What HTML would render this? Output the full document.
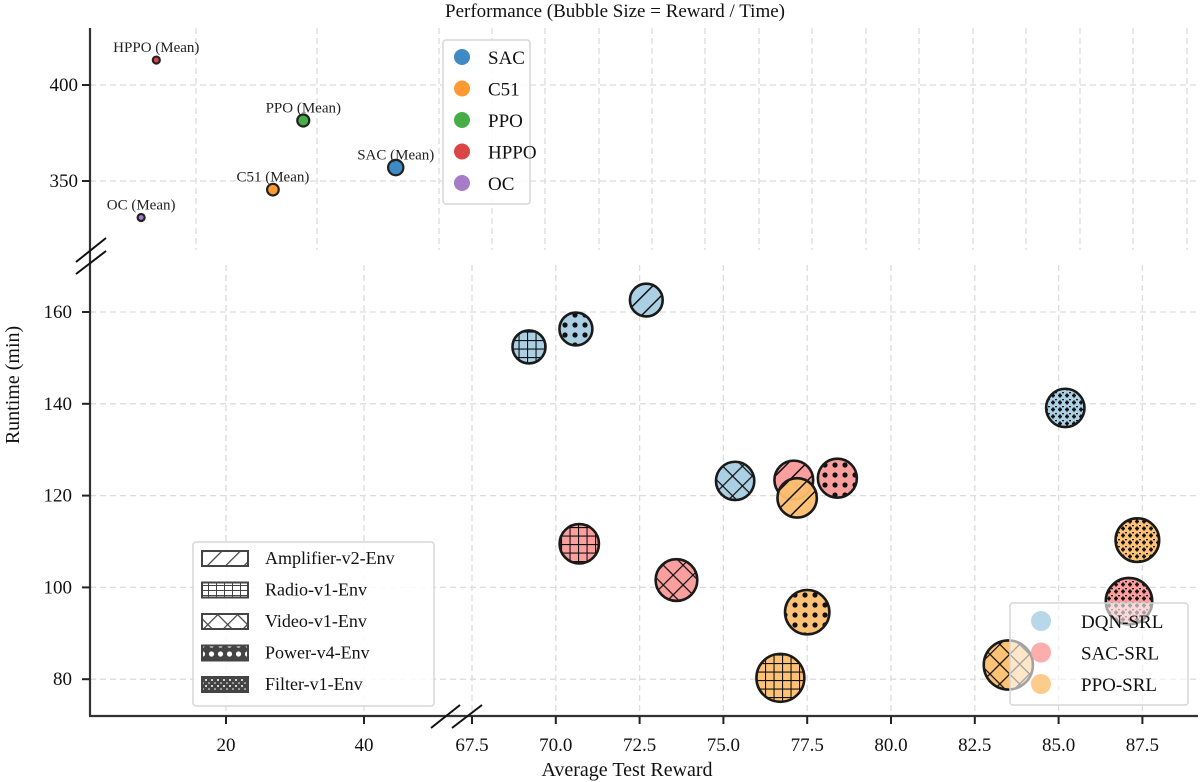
<!DOCTYPE html>
<html><head><meta charset="utf-8">
<style>
body{margin:0;background:#fff;}
svg{display:block;font-family:"Liberation Serif","DejaVu Serif",serif;}
</style></head>
<body>
<svg id="chart" width="1200" height="782" viewBox="0 0 1200 782">
<defs>
  <pattern id="h-amp" patternUnits="userSpaceOnUse" width="13" height="13" patternTransform="rotate(45)">
    <line x1="0" y1="0" x2="0" y2="13" stroke="#111" stroke-width="3"/>
  </pattern>
  <pattern id="h-radio" patternUnits="userSpaceOnUse" width="8.5" height="8.5">
    <path d="M0 0H8.5M0 0V8.5" stroke="#111" stroke-width="2.2" fill="none"/>
  </pattern>
  <pattern id="h-video" patternUnits="userSpaceOnUse" width="14" height="14" patternTransform="rotate(45)">
    <path d="M0 0H14M0 0V14" stroke="#111" stroke-width="2.5" fill="none"/>
  </pattern>
  <pattern id="h-power" patternUnits="userSpaceOnUse" width="10" height="10">
    <circle cx="5" cy="5" r="2.6" fill="#111"/>
  </pattern>
  <pattern id="h-filter" patternUnits="userSpaceOnUse" width="7" height="7">
    <path d="M1 3.5H5M3 1.5V5.5" stroke="#111" stroke-width="1.8"/>
    <circle cx="6" cy="0.5" r="1" fill="#111"/>
  </pattern>
  <pattern id="l-amp" patternUnits="userSpaceOnUse" width="13" height="13" patternTransform="rotate(45)">
    <line x1="0" y1="0" x2="0" y2="13" stroke="#444" stroke-width="2.5"/>
  </pattern>
  <pattern id="l-radio" patternUnits="userSpaceOnUse" width="8" height="5">
    <path d="M0 0H8M0 0V5" stroke="#444" stroke-width="2" fill="none"/>
  </pattern>
  <pattern id="l-video" patternUnits="userSpaceOnUse" width="14" height="14" patternTransform="rotate(45)">
    <path d="M0 0H14M0 0V14" stroke="#444" stroke-width="2.5" fill="none"/>
  </pattern>
  <pattern id="l-power" patternUnits="userSpaceOnUse" width="9" height="9">
    <rect width="9" height="9" fill="#444"/><circle cx="4.5" cy="6" r="2.6" fill="#fff"/>
  </pattern>
  <pattern id="l-filter" patternUnits="userSpaceOnUse" width="6" height="6">
    <rect width="6" height="6" fill="#444"/><circle cx="2" cy="2" r="1" fill="#fff"/><circle cx="5" cy="5" r="0.8" fill="#fff"/>
  </pattern>
</defs>
<g id="grid"></g>
<g id="marks"></g>
<g id="axes"></g>
<g id="legends"></g>
</svg>
<script>
// ---- data ----
const meanAlgos = ["SAC","C51","PPO","HPPO","OC"];
const meanColors = ["#3d8ac4","#ff9a33","#47ad47","#dc4545","#a47cc8"];
const meanReward = [44.6, 26.8, 31.2, 9.9, 7.7];
const meanTime = [357, 345.5, 381.5, 413, 331];

const envs = ["Amplifier-v2-Env","Radio-v1-Env","Video-v1-Env","Power-v4-Env","Filter-v1-Env"];
const srlAlgos = ["DQN-SRL","SAC-SRL","PPO-SRL"];
const srlColors = ["#a6cee3","#fb9a99","#fdbf6f"];
const dqnReward = [72.7, 69.2, 75.35, 70.6, 85.2];
const dqnTime = [162.6, 152.4, 123.2, 156.3, 139.1];
const sacReward = [77.1, 70.7, 73.6, 78.4, 87.1];
const sacTime = [123.4, 109.5, 101.6, 123.8, 97.0];
const ppoReward = [77.2, 76.7, 83.5, 77.5, 87.35];
const ppoTime = [119.5, 80.3, 83.1, 94.6, 110.3];

const topYTicks = [350, 400];
const botYTicks = [80, 100, 120, 140, 160];
const leftXTicks = [20, 40];
const rightXTicks = [67.5, 70.0, 72.5, 75.0, 77.5, 80.0, 82.5, 85.0, 87.5];

// ---- scales ----
const xL = v => 226 + (v - 20) * 6.9;
const xR = v => 472 + (v - 67.5) * 33.52;
const yTop = v => 85 + (400 - v) * 1.92;
const yBot = v => 312 + (160 - v) * 4.59;
const rad = (r, t) => 24.5 * Math.sqrt(r / t);

const NS = "http://www.w3.org/2000/svg";
function mk(tag, attrs, parent, text){
  const e = document.createElementNS(NS, tag);
  for (const k in attrs) e.setAttribute(k, attrs[k]);
  if (text !== undefined) e.textContent = text;
  parent.appendChild(e); return e;
}
const grid = document.getElementById('grid');
const marks = document.getElementById('marks');
const axes = document.getElementById('axes');
const legends = document.getElementById('legends');
const gstyle = {stroke:"#dcdcdc","stroke-width":1.3,"stroke-dasharray":"6,4"};

[196,317,439,492,545,599,652,705,759,812,866,919,973,1026,1080,1133,1187].forEach(x=>{
  const l = mk('line', Object.assign({x1:x,x2:x,y1:28,y2:250}, gstyle), grid);
  
  
});
topYTicks.forEach(v=>{
  const l = mk('line', Object.assign({x1:90,x2:1198,y1:yTop(v),y2:yTop(v)}, gstyle), grid);
  
  
});
leftXTicks.forEach(v=>{
  const l = mk('line', Object.assign({x1:xL(v),x2:xL(v),y1:265,y2:716}, gstyle), grid);
  
  
});
rightXTicks.forEach(v=>{
  const l = mk('line', Object.assign({x1:xR(v),x2:xR(v),y1:265,y2:716}, gstyle), grid);
  
  
});
botYTicks.forEach(v=>{
  const l = mk('line', Object.assign({x1:90,x2:1198,y1:yBot(v),y2:yBot(v)}, gstyle), grid);
  
  
});

meanAlgos.forEach((a,i)=>{
  const cx = xL(meanReward[i]), cy = yTop(meanTime[i]);
  const c = mk('circle',{cx:cx,cy:cy,r:Math.max(3.5,rad(meanReward[i],meanTime[i])-1),fill:meanColors[i],stroke:"#222","stroke-width":2.2},marks);
  
  
  const t = mk('text',{x:cx,y:cy-8,"text-anchor":"middle","font-size":15,fill:"#222"},marks,a+" (Mean)");
  
  
});

const hatchIds = ["h-amp","h-radio","h-video","h-power","h-filter"];
const allR = [dqnReward, sacReward, ppoReward];
const allT = [dqnTime, sacTime, ppoTime];
srlAlgos.forEach((a,ai)=>{
  envs.forEach((e,ei)=>{
    const rv = allR[ai][ei], tv = allT[ai][ei];
    const cx = xR(rv), cy = yBot(tv), r = rad(rv,tv);
    const g = mk('g',{},marks);
    
    
    mk('circle',{cx:cx,cy:cy,r:r,fill:srlColors[ai],"fill-opacity":0.95},g);
    mk('circle',{cx:cx,cy:cy,r:r,fill:"url(#"+hatchIds[ei]+")"},g);
    mk('circle',{cx:cx,cy:cy,r:r,fill:"none",stroke:"#1a1a1a","stroke-width":2.6},g);
  });
});

const sp = {stroke:"#333","stroke-width":2.2,fill:"none"};
const s1 = mk('line',Object.assign({x1:90,y1:28,x2:90,y2:716},sp),axes);
 
const s2 = mk('line',Object.assign({x1:89,y1:716,x2:1198,y2:716},sp),axes);
 
[[76,262,106,238],[76,274,106,251],[431,728,460,705],[452,728,482,705]].forEach(p=>{
  const l = mk('line',{x1:p[0],y1:p[1],x2:p[2],y2:p[3],stroke:"#111","stroke-width":2},axes);
  
  
});
topYTicks.forEach(v=>{
  const y=yTop(v);
  mk('line',{x1:82,x2:90,y1:y,y2:y,stroke:"#222","stroke-width":2},axes);
  const t=mk('text',{x:78,y:y+6,"text-anchor":"end","font-size":19,fill:"#111"},axes,String(v));
   
});
botYTicks.forEach(v=>{
  const y=yBot(v);
  mk('line',{x1:82,x2:90,y1:y,y2:y,stroke:"#222","stroke-width":2},axes);
  const t=mk('text',{x:72,y:y+6,"text-anchor":"end","font-size":19,fill:"#111"},axes,String(v));
   
});
leftXTicks.forEach(v=>{
  const x=xL(v);
  mk('line',{x1:x,x2:x,y1:716,y2:724,stroke:"#222","stroke-width":2},axes);
  const t=mk('text',{x:x,y:751,"text-anchor":"middle","font-size":19,fill:"#111"},axes,String(v));
   
});
rightXTicks.forEach(v=>{
  const x=xR(v);
  mk('line',{x1:x,x2:x,y1:716,y2:724,stroke:"#222","stroke-width":2},axes);
  const t=mk('text',{x:x,y:751,"text-anchor":"middle","font-size":19,fill:"#111"},axes,v.toFixed(1));
   
});
const tt = mk('text',{x:615,y:17,"text-anchor":"middle","font-size":19,fill:"#111"},axes,"Performance (Bubble Size = Reward / Time)");
 
const xl = mk('text',{x:627,y:776,"text-anchor":"middle","font-size":20,fill:"#111"},axes,"Average Test Reward");
 
const yl = mk('text',{x:0,y:0,"text-anchor":"middle","font-size":20,fill:"#111",transform:"translate(19,385) rotate(-90)"},axes,"Runtime (min)");
 

const lg1 = mk('g',{},legends);
 
mk('rect',{x:443,y:40,width:87,height:164,rx:3,fill:"#fff","fill-opacity":0.85,stroke:"#d6d6d6","stroke-width":1.5},lg1);
meanAlgos.forEach((a,i)=>{
  const y = 57 + i*31.5;
  const g = mk('g',{},lg1);
   
  mk('circle',{cx:462,cy:y,r:8,fill:meanColors[i]},g);
  mk('text',{x:488,y:y+7,"font-size":19,fill:"#111"},g,a);
});
const lg2 = mk('g',{},legends);
 
mk('rect',{x:193,y:542,width:241,height:164,rx:3,fill:"#fff","fill-opacity":0.85,stroke:"#d6d6d6","stroke-width":1.5},lg2);
const lIds = ["l-amp","l-radio","l-video","l-power","l-filter"];
envs.forEach((e,i)=>{
  const y = 558 + i*31.5;
  const g = mk('g',{},lg2);
   
  mk('rect',{x:202,y:y-7,width:46,height:15,fill:"#fff"},g);
  mk('rect',{x:202,y:y-7,width:46,height:15,fill:"url(#"+lIds[i]+")",stroke:"#444","stroke-width":2},g);
  mk('text',{x:265,y:y+6,"font-size":18,fill:"#111"},g,e);
});
const lg3 = mk('g',{},legends);
 
mk('rect',{x:1010,y:603,width:178,height:102,rx:3,fill:"#fff","fill-opacity":0.6,stroke:"#d6d6d6","stroke-width":1.5},lg3);
srlAlgos.forEach((a,i)=>{
  const y = 621 + i*31.5;
  const g = mk('g',{},lg3);
   
  mk('circle',{cx:1041,cy:y,r:10,fill:srlColors[i],"fill-opacity":0.8},g);
  mk('text',{x:1081,y:y+7,"font-size":19,fill:"#111"},g,a);
});
</script>
</body></html>
